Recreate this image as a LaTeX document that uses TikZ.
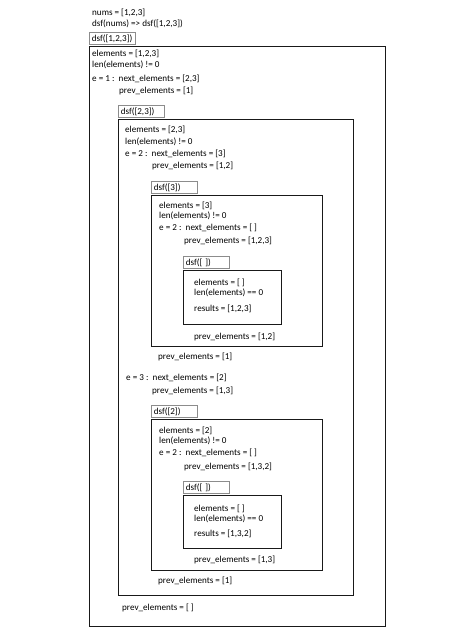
\documentclass[tikz,border=0pt]{standalone}
\usepackage{fontspec}
\setmainfont{Carlito}
\begin{document}
\begin{tikzpicture}[x=1pt,y=-1pt,
  txt/.style={anchor=west,inner sep=0pt,font=\fontsize{9.1}{11}\selectfont},
  tabbox/.style={draw=black!45,line width=0.6pt,anchor=south west,minimum width=46pt,minimum height=12.5pt,text width=41pt,inner xsep=2.5pt,inner ysep=0pt,align=left,font=\fontsize{9.1}{11}\selectfont},
  frame/.style={draw=black!90,line width=0.85pt}]
\useasboundingbox (0,0) rectangle (474,632);
\fill[white] (0,0) rectangle (474,632);
% header
\node[txt] (h1) at (92,13) {nums = [1,2,3]};
\node[txt] (h2) at (92,24) {dsf(nums) => dsf([1,2,3])};
% level 1
\node[tabbox] (tab1) at (89,45) {dsf([1,2,3])};
\draw[frame] (89,46) rectangle (385,626);
\node[txt] (a1) at (92,54) {elements = [1,2,3]};
\node[txt] (a2) at (92,65) {len(elements) != 0};
\node[txt] (a3) at (92,79) {e = 1 :\, next\_elements = [2,3]};
\node[txt] (a4) at (119,91) {prev\_elements = [1]};
% level 2
\node[tabbox] (tab2) at (118,118) {dsf([2,3])};
\draw[frame] (118,119) rectangle (353,595);
\node[txt] (b1) at (125,130) {elements = [2,3]};
\node[txt] (b2) at (125,142) {len(elements) != 0};
\node[txt] (b3) at (125,154) {e = 2 :\, next\_elements = [3]};
\node[txt] (b4) at (152,166) {prev\_elements = [1,2]};
% level 3 (first)
\node[tabbox] (tab3) at (151,194) {dsf([3])};
\draw[frame] (151,195) rectangle (322,346);
\node[txt] (c1) at (159,206) {elements = [3]};
\node[txt] (c2) at (159,216) {len(elements) != 0};
\node[txt] (c3) at (159,228) {e = 2 :\, next\_elements = [ ]};
\node[txt] (c4) at (184,241) {prev\_elements = [1,2,3]};
% level 4 (first)
\node[tabbox] (tab4) at (183,269) {dsf([ ])};
\draw[frame] (183,270) rectangle (281,324);
\node[txt] (d1) at (194,283) {elements = [ ]};
\node[txt] (d2) at (194,293) {len(elements) == 0};
\node[txt] (d3) at (194,309) {results = [1,2,3]};
\node[txt] (c5) at (194,337) {prev\_elements = [1,2]};
\node[txt] (b5) at (158,357) {prev\_elements = [1]};
\node[txt] (b6) at (126,378) {e = 3 :\, next\_elements = [2]};
\node[txt] (b7) at (152,391) {prev\_elements = [1,3]};
% level 3 (second)
\node[tabbox] (tab5) at (151,418) {dsf([2])};
\draw[frame] (151,419) rectangle (322,570);
\node[txt] (e1) at (159,431) {elements = [2]};
\node[txt] (e2) at (159,441) {len(elements) != 0};
\node[txt] (e3) at (159,453) {e = 2 :\, next\_elements = [ ]};
\node[txt] (e4) at (184,467) {prev\_elements = [1,3,2]};
% level 4 (second)
\node[tabbox] (tab6) at (183,494) {dsf([ ])};
\draw[frame] (183,495) rectangle (281,548);
\node[txt] (f1) at (194,509) {elements = [ ]};
\node[txt] (f2) at (194,519) {len(elements) == 0};
\node[txt] (f3) at (194,534) {results = [1,3,2]};
\node[txt] (e5) at (194,560) {prev\_elements = [1,3]};
\node[txt] (b8) at (158,581) {prev\_elements = [1]};
\node[txt] (a5) at (122,608) {prev\_elements = [ ]};
\end{tikzpicture}
\end{document}
